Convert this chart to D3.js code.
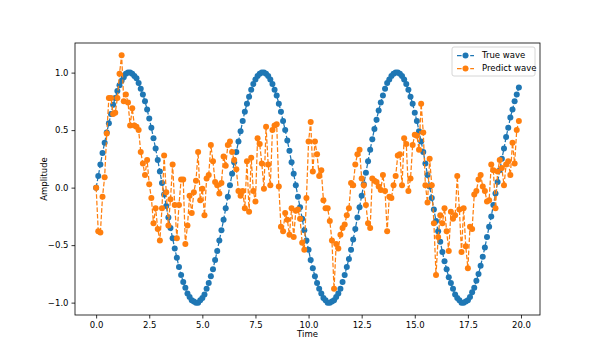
<!DOCTYPE html>
<html>
<head>
<meta charset="utf-8">
<script src="https://cdn.jsdelivr.net/npm/d3@7"></script>
<style>
  body { margin: 0; background: #fff; }
  text { font-family: "DejaVu Sans", sans-serif; fill: #000; }
  .axis text { font-size: 8.5px; }
  .axis path, .axis line { stroke: #000; stroke-width: 0.8; }
</style>
</head>
<body>
<div id="chart"></div>
<script>
// Data (one sample every 0.1 time units)
var step = 0.1;

var trueWave = [
  0.00, 0.10, 0.20, 0.30, 0.39, 0.48, 0.56, 0.64, 0.72, 0.78,
  0.84, 0.89, 0.93, 0.96, 0.99, 1.00, 1.00, 0.99, 0.97, 0.95,
  0.91, 0.86, 0.81, 0.75, 0.68, 0.60, 0.52, 0.43, 0.34, 0.24,
  0.14, 0.04, -0.06, -0.16, -0.26, -0.35, -0.44, -0.53, -0.61, -0.69,
  -0.76, -0.82, -0.87, -0.92, -0.95, -0.98, -0.99, -1.00, -1.00, -0.98,
  -0.96, -0.93, -0.88, -0.83, -0.77, -0.71, -0.63, -0.55, -0.46, -0.37,
  -0.28, -0.18, -0.08, 0.02, 0.12, 0.22, 0.31, 0.40, 0.49, 0.58,
  0.66, 0.73, 0.79, 0.85, 0.90, 0.94, 0.97, 0.99, 1.00, 1.00,
  0.99, 0.97, 0.94, 0.90, 0.85, 0.80, 0.73, 0.66, 0.58, 0.50,
  0.41, 0.32, 0.22, 0.12, 0.02, -0.08, -0.17, -0.27, -0.37, -0.46,
  -0.54, -0.63, -0.70, -0.77, -0.83, -0.88, -0.92, -0.96, -0.98, -1.00,
  -1.00, -0.99, -0.98, -0.95, -0.92, -0.88, -0.82, -0.76, -0.69, -0.62,
  -0.54, -0.45, -0.36, -0.26, -0.17, -0.07, 0.03, 0.13, 0.23, 0.33,
  0.42, 0.51, 0.59, 0.67, 0.74, 0.80, 0.86, 0.91, 0.94, 0.97,
  0.99, 1.00, 1.00, 0.99, 0.97, 0.94, 0.90, 0.85, 0.79, 0.73,
  0.65, 0.58, 0.49, 0.40, 0.31, 0.21, 0.11, 0.01, -0.09, -0.19,
  -0.29, -0.38, -0.47, -0.56, -0.64, -0.71, -0.78, -0.83, -0.88, -0.93,
  -0.96, -0.98, -1.00, -1.00, -0.99, -0.98, -0.95, -0.91, -0.87, -0.81,
  -0.75, -0.68, -0.60, -0.52, -0.43, -0.34, -0.25, -0.15, -0.05, 0.05,
  0.15, 0.25, 0.34, 0.44, 0.52, 0.61, 0.68, 0.75, 0.81, 0.87
];

var predictWave = [
  0.00, -0.38, -0.39, -0.08, 0.09, 0.47, 0.78, 0.78, 0.64, 0.65,
  0.78, 0.99, 1.15, 0.75, 0.81, 0.74, 0.54, 0.69, 0.54, 0.53,
  0.50, 0.31, 0.21, 0.11, 0.24, 0.03, -0.09, -0.31, -0.18, -0.36,
  -0.46, -0.18, 0.28, -0.04, -0.33, -0.10, 0.20, -0.15, -0.44, -0.15,
  0.07, 0.07, -0.49, -0.33, -0.07, -0.22, -0.04, 0.06, 0.31, -0.11,
  -0.01, -0.24, 0.08, 0.11, 0.37, 0.23, 0.05, 0.02, -0.05, 0.04,
  0.27, 0.19, 0.37, 0.40, 0.31, 0.24, 0.16, -0.03, -0.07, -0.03,
  -0.18, 0.23, -0.21, 0.26, -0.03, -0.12, 0.43, 0.38, 0.21, -0.01,
  0.53, 0.20, 0.02, 0.50, 0.54, 0.55, 0.01, -0.34, -0.38, -0.22,
  -0.28, -0.41, -0.18, -0.43, -0.20, -0.19, -0.27, -0.48, -0.54, -0.09,
  0.40, 0.57, 0.14, 0.40, 0.29, 0.10, 0.15, -0.11, -0.18, -0.18,
  -0.29, -0.46, -0.88, -0.49, -0.53, -0.41, -0.35, -0.32, -0.24, -0.18,
  0.04, 0.02, 0.20, 0.29, 0.33, 0.08, 0.02, -0.15, -0.31, -0.35,
  0.08, 0.06, 0.05, 0.01, -0.02, 0.11, -0.03, -0.38, -0.08, -0.09,
  0.02, 0.10, 0.28, 0.29, 0.02, 0.43, 0.38, -0.03, 0.08, 0.37,
  0.46, 0.45, 0.33, 0.73, 0.48, 0.02, -0.13, 0.25, 0.02, -0.31,
  -0.76, -0.43, -0.24, -0.31, -0.18, -0.38, -0.55, -0.21, -0.27, -0.24,
  0.10, -0.19, -0.56, -0.18, -0.51, -0.70, -0.34, -0.36, -0.06, -0.03,
  0.07, 0.11, 0.01, -0.03, -0.12, -0.11, 0.20, 0.15, -0.18, 0.14,
  0.24, 0.17, 0.02, 0.20, 0.23, 0.11, 0.39, 0.21, 0.50, 0.58
];

var xTicks = [0, 2.5, 5, 7.5, 10, 12.5, 15, 17.5, 20];
var yTicks = [-1.0, -0.5, 0.0, 0.5, 1.0];
var seriesNames = ["True wave", "Predict wave"];
var seriesColors = ["#1f77b4", "#ff7f0e"];

// Set up Chart
var svgWidth = 600;
var svgHeight = 360;

var margin = { top: 43, right: 60, bottom: 45, left: 75 };
var width = svgWidth - margin.left - margin.right;
var height = svgHeight - margin.top - margin.bottom;

var svg = d3.select("#chart")
  .append("svg")
  .attr("width", svgWidth)
  .attr("height", svgHeight);

var chartGroup = svg.append("g")
  .attr("transform", `translate(${margin.left}, ${margin.top})`);

var series = [trueWave, predictWave].map(function(vals, i) {
  return {
    name: seriesNames[i],
    color: seriesColors[i],
    values: vals.map(function(v, j) { return { t: j * step, v: v }; })
  };
});

// Scales with matplotlib style 5% padding
var tMax = (trueWave.length - 1) * step;
var xPad = tMax * 0.05;
var xScale = d3.scaleLinear()
  .domain([-xPad, tMax + xPad])
  .range([0, width]);

var yMin = d3.min(trueWave.concat(predictWave));
var yMax = d3.max(trueWave.concat(predictWave));
var yPad = (yMax - yMin) * 0.05;
var yScale = d3.scaleLinear()
  .domain([yMin - yPad, yMax + yPad])
  .range([height, 0]);

// Axes
var bottomAxis = d3.axisBottom(xScale)
  .tickValues(xTicks)
  .tickFormat(d3.format(".1f"))
  .tickSizeOuter(0)
  .tickSize(3.5)
  .tickPadding(3);

var leftAxis = d3.axisLeft(yScale)
  .tickValues(yTicks)
  .tickFormat(d3.format(".1f"))
  .tickSizeOuter(0)
  .tickSize(3.5)
  .tickPadding(3);

chartGroup.append("g")
  .attr("class", "axis")
  .attr("transform", `translate(0, ${height})`)
  .call(bottomAxis)
  .select(".domain").remove();

chartGroup.append("g")
  .attr("class", "axis")
  .call(leftAxis)
  .select(".domain").remove();

// frame
chartGroup.append("rect")
  .attr("width", width)
  .attr("height", height)
  .attr("fill", "none")
  .attr("stroke", "#000")
  .attr("stroke-width", 0.8);

// Lines + markers
var line = d3.line()
  .x(d => xScale(d.t))
  .y(d => yScale(d.v));

series.forEach(function(s) {
  var g = chartGroup.append("g");
  g.append("path")
    .datum(s.values)
    .attr("d", line)
    .attr("fill", "none")
    .attr("stroke", s.color)
    .attr("stroke-width", 1.25)
    .attr("stroke-dasharray", "4.6,2");
  g.selectAll("circle")
    .data(s.values)
    .enter()
    .append("circle")
    .attr("cx", d => xScale(d.t))
    .attr("cy", d => yScale(d.v))
    .attr("r", 3)
    .attr("fill", s.color);
});

// Legend
var legend = chartGroup.append("g")
  .attr("transform", `translate(${width - 88}, 4)`);

legend.append("rect")
  .attr("width", 83)
  .attr("height", 29)
  .attr("rx", 2)
  .attr("fill", "#fff")
  .attr("fill-opacity", 0.8)
  .attr("stroke", "#ccc")
  .attr("stroke-width", 0.8);

series.forEach(function(s, i) {
  var yy = 8.5 + i * 13;
  legend.append("line")
    .attr("x1", 5).attr("x2", 22)
    .attr("y1", yy).attr("y2", yy)
    .attr("stroke", s.color)
    .attr("stroke-width", 1.25)
    .attr("stroke-dasharray", "4.6,2");
  legend.append("circle")
    .attr("cx", 13.5).attr("cy", yy)
    .attr("r", 3)
    .attr("fill", s.color);
  legend.append("text")
    .attr("x", 30).attr("y", yy)
    .attr("dy", "0.35em")
    .attr("font-size", "8.5px")
    .text(s.name);
});

// Axis labels
chartGroup.append("text")
  .attr("x", width / 2)
  .attr("y", height + 22)
  .attr("text-anchor", "middle")
  .attr("font-size", "8.5px")
  .text("Time");

chartGroup.append("text")
  .attr("transform", "rotate(-90)")
  .attr("x", -height / 2)
  .attr("y", -28)
  .attr("text-anchor", "middle")
  .attr("font-size", "8.5px")
  .text("Amplitude");
</script>
</body>
</html>
